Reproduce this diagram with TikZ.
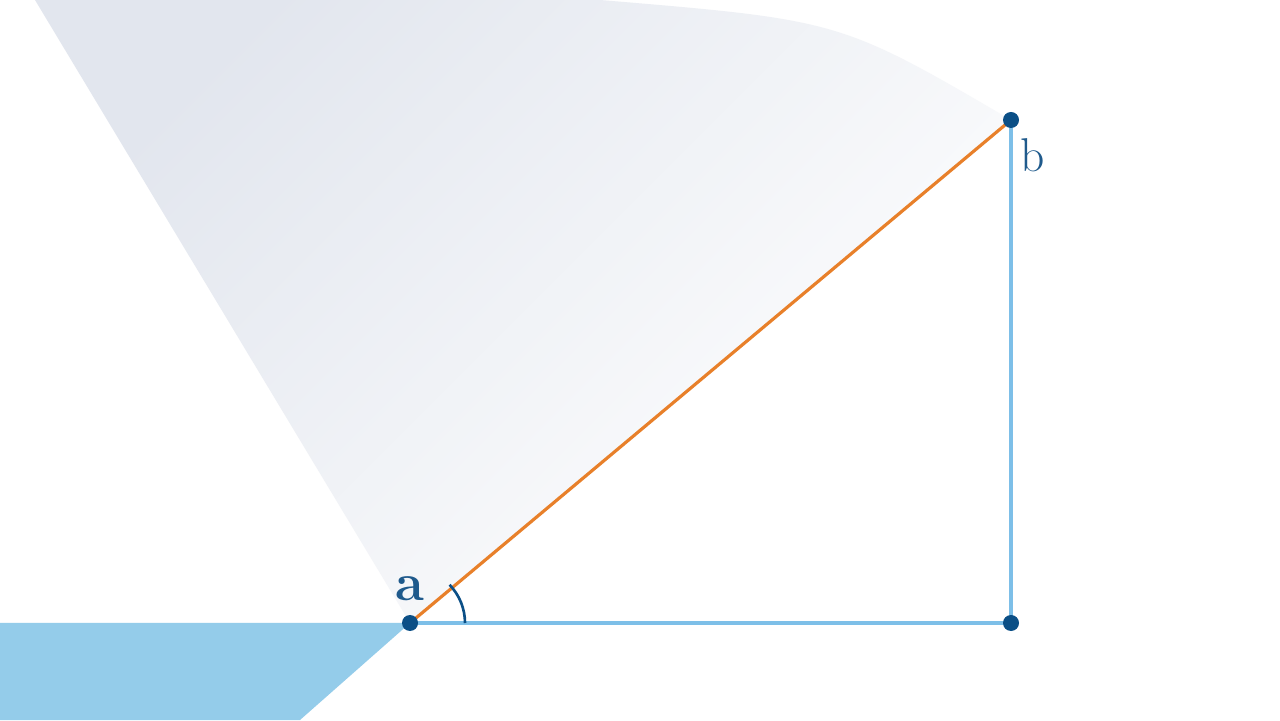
\documentclass[tikz,border=0pt]{standalone}
\usepackage{tikz}
\usepackage{xcolor}
\definecolor{sideblue}{HTML}{7DBFE8}
\definecolor{fillblue}{HTML}{94CCEA}
\definecolor{dotblue}{HTML}{0B4F86}
\definecolor{labelblue}{HTML}{1F5A8C}
\definecolor{hyporange}{HTML}{E8802A}
\definecolor{wedgedark}{HTML}{E2E6EE}
\definecolor{wedgelight}{HTML}{FFFFFF}
\tikzset{
    side-line/.style = {draw=sideblue, line width=1.8pt},
    hyp-line/.style = {draw=hyporange, line width=1.8pt},
    dot-point/.style = {circle, fill=dotblue, inner sep=0pt, minimum size=0.32cm},
    point-label/.style = {text=labelblue, font=\fontsize{27}{30}\selectfont},
}
\begin{document}
\begin{tikzpicture}
\useasboundingbox (0,0) rectangle (25.6,14.4);
\fill[white] (0,0) rectangle (25.6,14.4);
% shaded wedge and filled floor
\shade[left color=wedgedark, right color=wedgelight, shading angle=45]
    (8.2,1.94) -- (0.7,14.4) -- (12.0,14.4) .. controls (16.8,14.0) .. (20.22,12.0) -- cycle;
\fill[fillblue] (0,0) -- (0,1.94) -- (8.2,1.94) -- (6.0,0) -- cycle;
\coordinate (a) at (8.2,1.94);
\coordinate (b) at (20.22,12.0);
\coordinate (c) at (20.22,1.94);
\draw[side-line] (a) -- (c) -- (b);
\draw[hyp-line] (a) -- (b);
\draw[draw=dotblue, line width=1.5pt] ([shift={(0:1.1)}]a) arc (0:44:1.1);
\node[dot-point] (pa) at (a) {};
\node[dot-point] (pb) at (b) {};
\node[dot-point] (pc) at (c) {};
\node[point-label, font=\fontsize{30}{32}\selectfont\bfseries] (la) at (8.2,2.62) {a};
\node[point-label] (lb) at (20.66,11.3) {b};
\end{tikzpicture}
\end{document}
